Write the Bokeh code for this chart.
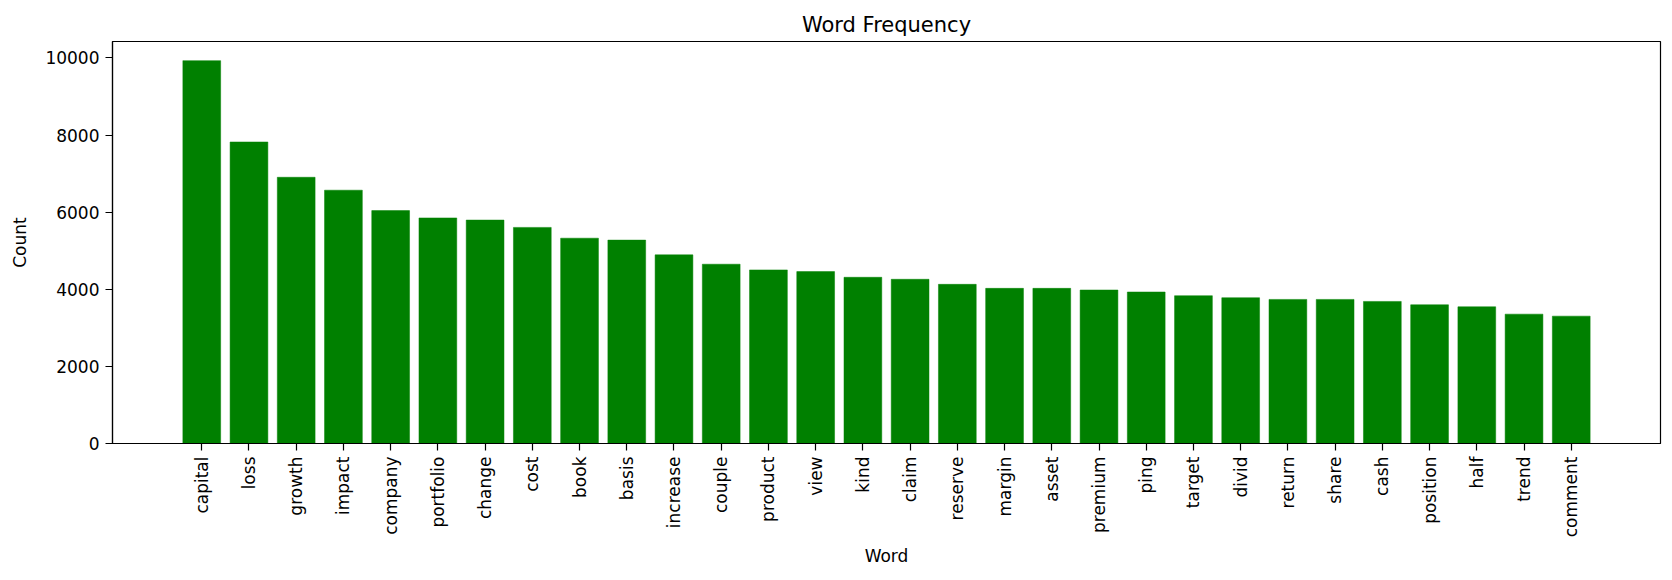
import math
from bokeh.plotting import figure
from bokeh.models import Range1d, FixedTicker, ColumnDataSource
from bokeh.embed import file_html
from bokeh.resources import INLINE

words = ["capital", "loss", "growth", "impact", "company", "portfolio", "change",
         "cost", "book", "basis", "increase", "couple", "product", "view", "kind",
         "claim", "reserve", "margin", "asset", "premium", "ping", "target", "divid",
         "return", "share", "cash", "position", "half", "trend", "comment"]
counts = [9930, 7820, 6905, 6570, 6040, 5850, 5795, 5605, 5325, 5275, 4893, 4650,
          4502, 4458, 4311, 4259, 4128, 4024, 4024, 3981, 3929, 3833, 3781, 3737,
          3737, 3685, 3598, 3546, 3355, 3303]
y_ticks = [0, 2000, 4000, 6000, 8000, 10000]

FONT = "DejaVu Sans"

xs = list(range(len(words)))
src = ColumnDataSource(dict(x=xs, top=counts))

n = len(words)
xmin, xmax = -0.4, n - 1 + 0.4
xpad = 0.05 * (xmax - xmin)
ymax = max(counts) * 1.05

p = figure(width=1664, height=572, output_backend="svg", toolbar_location=None,
           x_range=Range1d(xmin - xpad, xmax + xpad), y_range=Range1d(0, ymax),
           title="Word Frequency",
           min_border_left=112, min_border_right=4, min_border_top=41, min_border_bottom=129)

p.vbar(x="x", top="top", bottom=0, width=0.8, source=src,
       fill_color="#008000", line_color="#008000", line_width=0.5)

p.title.align = "center"
p.title.text_font = FONT
p.title.text_font_size = "21px"
p.title.text_font_style = "normal"
p.title.text_color = "#000000"
p.title.standoff = 9

p.xgrid.visible = False
p.ygrid.visible = False
p.outline_line_color = "#000000"
p.outline_line_width = 1.2
p.outline_line_alpha = 1.0

p.xaxis.ticker = FixedTicker(ticks=xs)
p.xaxis.major_label_overrides = {i: w for i, w in enumerate(words)}
p.xaxis.major_label_orientation = math.pi / 2
p.yaxis.ticker = FixedTicker(ticks=y_ticks)

for ax in (p.xaxis[0], p.yaxis[0]):
    ax.axis_line_color = "#000000"
    ax.axis_line_width = 1.2
    ax.major_tick_line_color = "#000000"
    ax.major_tick_line_width = 1.2
    ax.major_tick_out = 7
    ax.major_tick_in = 0
    ax.minor_tick_line_color = None
    ax.major_label_text_font = FONT
    ax.major_label_text_font_size = "17px"
    ax.major_label_text_color = "#000000"
    ax.major_label_standoff = 6
    ax.axis_label_text_font = FONT
    ax.axis_label_text_font_size = "17px"
    ax.axis_label_text_font_style = "normal"
    ax.axis_label_text_color = "#000000"

p.xaxis.axis_label = "Word"
p.yaxis.axis_label = "Count"
p.xaxis.axis_label_standoff = 6
p.yaxis.axis_label_standoff = 12

open("out.html", "w").write(file_html(p, INLINE))
